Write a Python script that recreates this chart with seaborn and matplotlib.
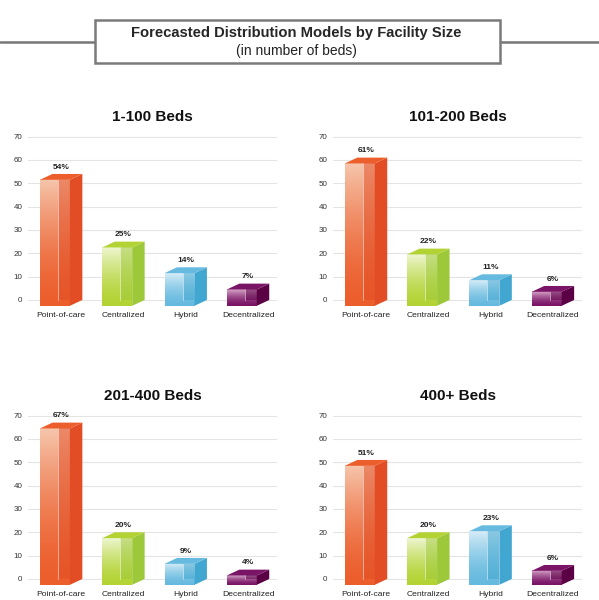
import numpy as np
import pandas as pd
import matplotlib.pyplot as plt
import seaborn as sns
from matplotlib.patches import Polygon, Rectangle
from matplotlib.lines import Line2D
from matplotlib.colors import LinearSegmentedColormap

# data
models = ["Point-of-care", "Centralized", "Hybrid", "Decentralized"]
panel_titles = ["1-100 Beds", "101-200 Beds", "201-400 Beds", "400+ Beds"]
beds_1_100 = [54, 25, 14, 7]
beds_101_200 = [61, 22, 11, 6]
beds_201_400 = [67, 20, 9, 4]
beds_400_plus = [51, 20, 23, 6]
panel_values = [beds_1_100, beds_101_200, beds_201_400, beds_400_plus]

front_colors = ["#EC5E2C", "#B3D334", "#66BADF", "#7A1466"]
side_colors = ["#E24D25", "#9DC83A", "#42A7D0", "#5C0046"]
light_colors = ["#F6C6AC", "#EFF6D2", "#D6ECF7", "#D8A9CA"]

sns.set_theme(style="white")
plt.rcParams["font.family"] = ["Liberation Sans", "DejaVu Sans"]

fig = plt.figure(figsize=(5.99, 6.0), dpi=100)

# header: line with a boxed title
fig.add_artist(Line2D([0, 1], [0.93, 0.93], color="#777777", lw=1.8,
                      transform=fig.transFigure, zorder=1))
fig.add_artist(Rectangle((0.159, 0.895), 0.676, 0.072, transform=fig.transFigure,
                         facecolor="white", edgecolor="#7a7a7a", lw=1.8, zorder=2))
fig.text(0.495, 0.945, "Forecasted Distribution Models by Facility Size",
         ha="center", va="center", fontsize=10.6, fontweight="bold", zorder=3)
fig.text(0.495, 0.915, "(in number of beds)", ha="center", va="center",
         fontsize=10, color="#222222", zorder=3)

positions = [
    [0.047, 0.4845, 0.416, 0.2917],
    [0.556, 0.4845, 0.416, 0.2917],
    [0.047, 0.0195, 0.416, 0.2917],
    [0.556, 0.0195, 0.416, 0.2917],
]

dx = 0.2      # depth of the box in x (category units)
dy = 2.5      # depth of the box in y (data units)
bar_w = 0.48

for pos, title, values in zip(positions, panel_titles, panel_values):
    ax = fig.add_axes(pos)
    df = pd.DataFrame({"model": models, "pct": values})
    sns.barplot(data=df, x="model", y="pct", hue="model", palette=front_colors,
                width=bar_w, saturation=1, legend=False, ax=ax, zorder=2)

    for i, p in enumerate(ax.patches):
        v = p.get_height()
        p.set_x(p.get_x() - dx / 2)
        p.set_y(-dy)
        p.set_linewidth(0)
        x0 = p.get_x()
        x1 = x0 + p.get_width()
        top = v - dy

        # vertical gradient on the front face
        cmap = LinearSegmentedColormap.from_list("g", [front_colors[i], light_colors[i]])
        t = np.linspace(0, 1, 200) ** 1.6
        ax.imshow(t[:, None], extent=[x0, x1, -dy, top], origin="lower",
                  aspect="auto", cmap=cmap, vmin=0, vmax=1, zorder=2.1)
        # inner back edge seen through the glass
        sx = x0 + 0.6 * (x1 - x0)
        ax.add_patch(Rectangle((sx, 0), x1 - sx, top, facecolor=side_colors[i],
                               alpha=0.5, lw=0, zorder=2.2))
        ax.plot([sx, sx], [0, top], color="white", lw=0.6, alpha=0.6, zorder=2.3)

        # side and top faces
        ax.add_patch(Polygon([(x1, -dy), (x1 + dx, 0), (x1 + dx, v), (x1, top)],
                             closed=True, facecolor=side_colors[i], lw=0, zorder=2.1))
        ax.add_patch(Polygon([(x0, top), (x0 + dx, v), (x1 + dx, v), (x1, top)],
                             closed=True, facecolor=front_colors[i], lw=0, zorder=2.1))

        ax.text((x0 + x1 + dx) / 2, v + 1.4, f"{values[i]}%", ha="center", va="bottom",
                fontsize=6, fontweight="bold", color="#222222", zorder=3)

    ax.set_xlim(-0.53, 3.47)
    ax.set_ylim(-4, 71)
    ax.set_yticks(range(0, 71, 10))
    ax.yaxis.grid(True, color="#e4e4e4", lw=0.8)
    ax.set_axisbelow(True)
    sns.despine(ax=ax, left=True, bottom=True)
    ax.set_xlabel("")
    ax.set_ylabel("")
    ax.tick_params(axis="y", length=0, pad=4, labelsize=5.8, labelcolor="#333333")
    ax.tick_params(axis="x", length=0, pad=2, labelsize=6.1, labelcolor="#222222")
    ax.text(0.5, 1.1, title, transform=ax.transAxes, ha="center", va="center",
            fontsize=11, fontweight="bold", color="#111111")

fig.savefig("out.png", dpi=100)
